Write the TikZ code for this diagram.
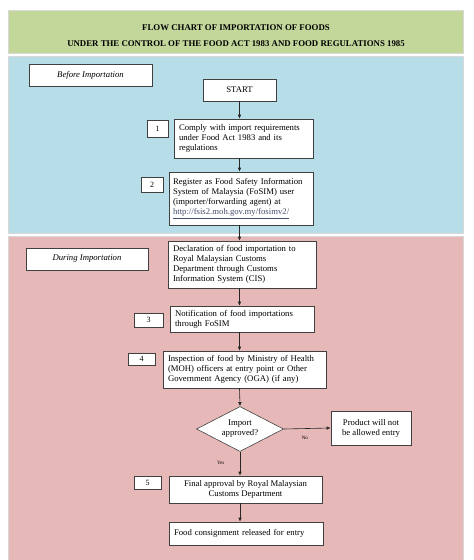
\documentclass[tikz,border=0pt]{standalone}
\usepackage{fontspec}
\setmainfont{Liberation Serif}
\usepackage{tikz}
\usetikzlibrary{shapes.geometric}
\usetikzlibrary{arrows.meta}
\hyphenpenalty=10000
\definecolor{titlegreen}{RGB}{196,215,155}
\definecolor{beforeblue}{RGB}{183,221,232}
\definecolor{duringpink}{RGB}{230,185,184}
\definecolor{linkgray}{RGB}{70,80,110}
\tikzset{
  box/.style={draw=black!75, fill=white, line width=0.6pt, inner sep=0pt, inner xsep=5pt,
    font=\fontsize{8.7}{10}\selectfont, align=left},
  numbox/.style={draw=black!75, fill=white, line width=0.6pt, inner sep=0pt,
    font=\fontsize{8}{10}\selectfont, align=center},
  arr/.style={line width=0.6pt, draw=black!85, -{Latex[length=4pt,width=3.5pt]}},
  tiny/.style={font=\fontsize{5}{6}\selectfont}
}
\begin{document}
\begin{tikzpicture}[x=1pt,y=-1pt]
				\useasboundingbox (0,0) rectangle (474,560);
				\fill[white] (0,0) rectangle (474,560);
				\draw[white!85!black,fill=titlegreen] (8,10) rectangle (463,53);
				\draw[white!85!black,fill=beforeblue] (8,56) rectangle (463,233);
				\draw[white!85!black,fill=duringpink] (8,236) rectangle (463,562);
				\node[font=\fontsize{8.8}{16}\selectfont\bfseries, align=center] (title) at (236,35.5)
					{FLOW CHART OF IMPORTATION OF FOODS\\UNDER THE CONTROL OF THE FOOD ACT 1983 AND FOOD REGULATIONS 1985};
				\node[box,align=center,minimum width=123,minimum height=22,font=\fontsize{8.7}{10}\selectfont\itshape] (before) at (90.5,75) {Before Importation};
				\node[box,align=center,minimum width=73,minimum height=22] (start) at (239.5,90) {START};
				\node[numbox,minimum width=21,minimum height=17] (n1) at (157.5,128.5) {1};
				\node[box,text width=129,minimum height=39] (comply) at (243.5,138.5)
					{Comply with import requirements\\under Food Act 1983 and its\\regulations};
				\node[numbox,minimum width=22,minimum height=15] (n2) at (152,184.5) {2};
				\node[box,text width=136,inner xsep=4pt,minimum height=53] (register) at (241,198.5)
					{Register as Food Safety Information\\System of Malaysia (FoSIM) user\\(importer/forwarding agent) at\\{\color{linkgray}\underline{http://fsis2.moh.gov.my/fosimv2/}}};
				\node[box,align=center,minimum width=122,minimum height=22,font=\fontsize{8.7}{10}\selectfont\itshape] (during) at (87,259) {During Importation};
				\node[box,text width=138,minimum height=47] (declar) at (242,264.5)
					{Declaration of food importation to\\Royal Malaysian Customs\\Department through Customs\\Information System (CIS)};
				\node[numbox,minimum width=29,minimum height=14] (n3) at (148.5,320) {3};
				\node[box,text width=134,minimum height=26] (notif) at (242,319)
					{Notification of food importations\\through FoSIM};
				\node[numbox,minimum width=27,minimum height=12] (n4) at (141.5,359) {4};
				\node[box,text width=153,minimum height=37] (inspect) at (244.5,369.5)
					{Inspection of food by Ministry of Health\\(MOH) officers at entry point or Other\\Government Agency (OGA) (if any)};
				\node[draw=black!75,fill=white,line width=0.6pt,diamond,aspect=1.93,inner sep=0pt,minimum width=87,minimum height=45,
					font=\fontsize{8.7}{10}\selectfont,align=center] (dec) at (240,429) {Import\\approved?};
				\node[box,align=center,minimum width=80,minimum height=34] (product) at (371,428)
					{Product will not\\be allowed entry};
				\node[numbox,minimum width=27,minimum height=13] (n5) at (147.5,482.5) {5};
				\node[box,align=center,minimum width=153,minimum height=27] (final) at (245.5,489.5)
					{Final approval by Royal Malaysian\\Customs Department};
				\node[box,text width=144,minimum height=23] (release) at (246,533.5)
					{Food consignment released for entry};
				% connectors
				\draw[arr] (start.south) -- (start.south |- comply.north);
				\draw[arr] (start.south |- comply.south) -- (start.south |- register.north);
				\draw[arr] (start.south |- register.south) -- (start.south |- declar.north);
				\draw[arr] (start.south |- declar.south) -- (start.south |- notif.north);
				\draw[arr] (start.south |- notif.south) -- (start.south |- inspect.north);
				\draw[arr] (start.south |- inspect.south) -- (dec.north);
				\draw[arr] (dec.east) -- (product.west) node[tiny,pos=0.45,below=4pt] (no) {No};
				\draw[arr] (dec.south) -- (dec.south |- final.north) node[tiny,pos=0.45,left=12pt] (yes) {Yes};
				\draw[arr] (dec.south |- final.south) -- (dec.south |- release.north);
			\end{tikzpicture}
\end{document}
